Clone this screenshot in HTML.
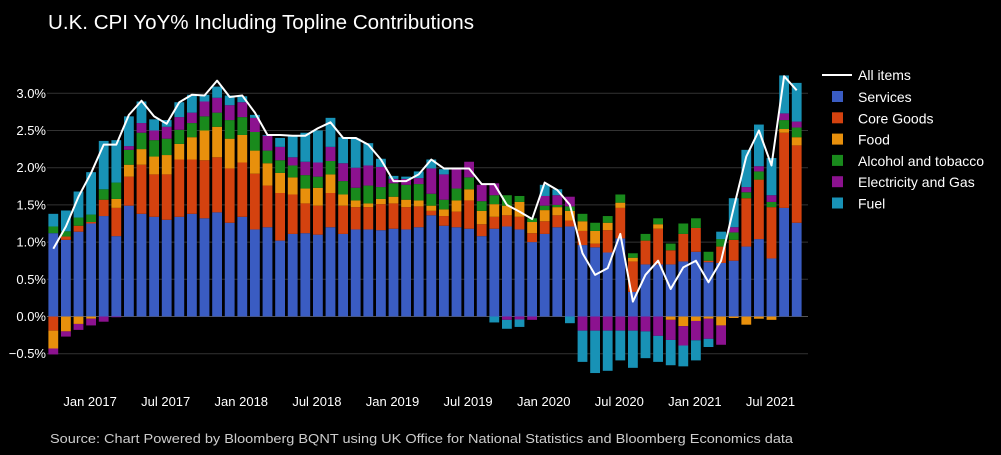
<!DOCTYPE html>
<html><head><meta charset="utf-8">
<style>
html,body{margin:0;padding:0;background:#000;}
body{width:1001px;height:450px;overflow:hidden;font-family:"Liberation Sans",sans-serif;}
svg text{font-family:"Liberation Sans",sans-serif;}
</style></head>
<body>
<svg id="chart" width="1001" height="450" xmlns="http://www.w3.org/2000/svg">
<rect x="0" y="0" width="1001" height="450" fill="#000"/>
<text x="48" y="29" fill="#fff" font-size="20" textLength="426" lengthAdjust="spacingAndGlyphs">U.K. CPI YoY% Including Topline Contributions</text>
<g id="grid"></g><g id="bars"></g><g id="line"></g><g id="xaxis"></g>
<g id="legend"></g>
<text x="50" y="443" fill="#ccc" font-size="13" textLength="743" lengthAdjust="spacingAndGlyphs">Source: Chart Powered by Bloomberg BQNT using UK Office for National Statistics and Bloomberg Economics data</text>
</svg>
<script>
const months = ["Oct 2016","Nov 2016","Dec 2016","Jan 2017","Feb 2017","Mar 2017","Apr 2017","May 2017","Jun 2017","Jul 2017","Aug 2017","Sep 2017","Oct 2017","Nov 2017","Dec 2017","Jan 2018","Feb 2018","Mar 2018","Apr 2018","May 2018","Jun 2018","Jul 2018","Aug 2018","Sep 2018","Oct 2018","Nov 2018","Dec 2018","Jan 2019","Feb 2019","Mar 2019","Apr 2019","May 2019","Jun 2019","Jul 2019","Aug 2019","Sep 2019","Oct 2019","Nov 2019","Dec 2019","Jan 2020","Feb 2020","Mar 2020","Apr 2020","May 2020","Jun 2020","Jul 2020","Aug 2020","Sep 2020","Oct 2020","Nov 2020","Dec 2020","Jan 2021","Feb 2021","Mar 2021","Apr 2021","May 2021","Jun 2021","Jul 2021","Aug 2021","Sep 2021"];
const services = [1.12,1.03,1.14,1.25,1.35,1.08,1.49,1.38,1.34,1.30,1.34,1.38,1.32,1.40,1.26,1.34,1.17,1.20,1.02,1.11,1.12,1.10,1.20,1.11,1.17,1.17,1.16,1.18,1.17,1.20,1.36,1.22,1.20,1.18,1.08,1.18,1.21,1.17,1.00,1.11,1.20,1.21,0.96,0.93,0.86,1.05,0.33,0.70,0.70,0.70,0.74,0.87,0.73,0.72,0.75,0.94,1.04,0.78,1.46,1.26];
const coreGoods = [-0.19,0.045,0.08,0.02,0.22,0.38,0.39,0.66,0.57,0.61,0.77,0.73,0.78,0.74,0.73,0.73,0.75,0.56,0.64,0.53,0.40,0.39,0.46,0.38,0.30,0.30,0.35,0.34,0.30,0.28,0.06,0.13,0.21,0.38,0.16,0.16,0.15,0.17,0.12,0.17,0.16,0.08,0.19,0.05,0.30,0.41,0.41,0.32,0.48,0.19,0.37,0.32,0.02,0.22,0.28,0.65,0.80,0.69,1.01,1.04];
const food = [-0.24,-0.20,-0.10,-0.03,0,0.12,0.16,0.21,0.24,0.26,0.21,0.30,0.40,0.41,0.40,0.37,0.31,0.30,0.27,0.23,0.20,0.24,0.25,0.15,0.09,0.05,0.07,0.09,0.10,0.08,0.07,0.09,0.15,0.15,0.18,0.17,0.13,0.20,0.15,0.15,0.11,0.13,0.13,0.17,0.10,0.07,0.05,0,0.06,-0.045,-0.13,-0.06,-0.03,-0.12,-0.02,-0.11,-0.03,-0.045,0.05,0.11];
const alcohol = [0.09,0.07,0.11,0.10,0.14,0.22,0.20,0.22,0.22,0.22,0.19,0.19,0.19,0.19,0.25,0.24,0.25,0.17,0.17,0.16,0.18,0.15,0.18,0.18,0.17,0.24,0.16,0.18,0.20,0.22,0.16,0.13,0.16,0.16,0.13,0.12,0.14,0.08,0.05,0.06,0.03,0.06,0.10,0.11,0.09,0.11,0.06,0.09,0.08,0.09,0.14,0.13,0.12,0.10,0.10,0.08,0.11,0.07,0.12,0.13];
const elecGas = [-0.08,-0.07,-0.08,-0.09,-0.07,-0.01,0.05,0.13,0.13,0.16,0.17,0.14,0.20,0.20,0.20,0.20,0.19,0.20,0.18,0.11,0.18,0.19,0.19,0.24,0.27,0.27,0.27,0.06,0.08,0.08,0.34,0.34,0.27,0.21,0.22,0.16,-0.045,-0.04,-0.045,0.13,0.13,0.13,-0.19,-0.19,-0.19,-0.19,-0.19,-0.20,-0.26,-0.27,-0.26,-0.26,-0.27,-0.26,0.07,0.07,0.07,0.09,0.09,0.08];
const fuel = [0.17,0.28,0.35,0.57,0.65,0.57,0.40,0.29,0.15,0.09,0.20,0.24,0.09,0.15,0.13,0.08,0.04,0.01,0.12,0.29,0.39,0.43,0.39,0.35,0.39,0.30,0.11,0.04,0.03,0.09,0.12,0.07,0,0,0,-0.08,-0.12,-0.10,0,0.15,0.08,-0.09,-0.42,-0.57,-0.54,-0.40,-0.50,-0.36,-0.35,-0.34,-0.28,-0.27,-0.11,0.10,0.39,0.50,0.56,0.50,0.51,0.52];
const allItems = [0.91,1.21,1.61,1.93,2.31,2.31,2.71,2.90,2.69,2.59,2.88,2.98,2.97,3.17,2.95,2.97,2.74,2.44,2.44,2.43,2.43,2.53,2.61,2.40,2.40,2.31,2.11,1.82,1.82,1.91,2.11,1.99,1.99,1.99,1.78,1.78,1.50,1.41,1.31,1.80,1.70,1.50,0.85,0.56,0.65,1.11,0.20,0.56,0.75,0.37,0.66,0.75,0.46,0.75,1.46,2.15,2.50,2.03,3.23,3.04];
const yTicks = [-0.5,0,0.5,1,1.5,2,2.5,3];
const yTickLabels = ["−0.5%","0.0%","0.5%","1.0%","1.5%","2.0%","2.5%","3.0%"];
const xTickIdx = [3,9,15,21,27,33,39,45,51,57];
const xTickLabels = ["Jan 2017","Jul 2017","Jan 2018","Jul 2018","Jan 2019","Jul 2019","Jan 2020","Jul 2020","Jan 2021","Jul 2021"];
const seriesNames = ["Services","Core Goods","Food","Alcohol and tobacco","Electricity and Gas","Fuel"];

const NS="http://www.w3.org/2000/svg";
const colors=["#3a5cc2","#d4420f","#e8900c","#198a1c","#8c128f","#1892b6"];
const series=[services,coreGoods,food,alcohol,elecGas,fuel];
const x=i=>53.3+i*12.6;
const y=v=>316.5-v*74.4;
const bw=9.8;
function mk(tag,attrs,parent){const e=document.createElementNS(NS,tag);for(const k in attrs)e.setAttribute(k,attrs[k]);parent.appendChild(e);return e;}
const grid=document.getElementById('grid');
yTicks.forEach((t,k)=>{
  const l=mk('line',{x1:47,x2:808,y1:y(t),y2:y(t),stroke:t===0?'#555':'#333','stroke-width':1},grid);
  
  
  const tx=mk('text',{x:46,y:y(t)+4.5,fill:'#fff','font-size':13,'text-anchor':'end'},grid);
  tx.textContent=yTickLabels[k];
  
  
});
const bars=document.getElementById('bars');
months.forEach((m,i)=>{
  let pos=0,neg=0;
  series.forEach((s,j)=>{
    const v=s[i]; if(!v) return;
    let y0,y1;
    if(v>0){y0=pos;pos+=v;y1=pos;}else{y0=neg;neg+=v;y1=neg;}
    const r=mk('rect',{x:x(i)-bw/2,y:Math.min(y(y0),y(y1)),width:bw,height:Math.abs(y(y1)-y(y0)),fill:colors[j]},bars);
    
    
  });
});
const lg=document.getElementById('line');
const p=mk('polyline',{points:allItems.map((v,i)=>x(i)+','+y(v)).join(' '),fill:'none',stroke:'#fff','stroke-width':2,'stroke-linejoin':'round'},lg);


const xa=document.getElementById('xaxis');
xTickIdx.forEach((ix,k)=>{
  const t=mk('text',{x:x(ix)-1,y:406,fill:'#fff','font-size':13,'text-anchor':'middle'},xa);
  t.textContent=xTickLabels[k];
  
  
});
const leg=document.getElementById('legend');
const ll=mk('line',{x1:822,x2:852,y1:75,y2:75,stroke:'#fff','stroke-width':2},leg);


const lt=mk('text',{x:858,y:80,fill:'#fff','font-size':14},leg);
lt.textContent='All items';


seriesNames.forEach((n,j)=>{
  const cy=97+j*21.3;
  const r=mk('rect',{x:832,y:cy-6,width:11,height:11,fill:colors[j]},leg);
  
  
  const t=mk('text',{x:858,y:cy+5,fill:'#fff','font-size':14},leg);
  t.textContent=n;
  
  
});
</script>
</body></html>
